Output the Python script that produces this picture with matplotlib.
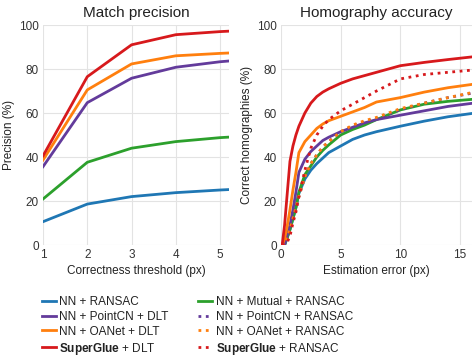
import numpy as np
import matplotlib.pyplot as plt

plt.rcParams['font.family'] = ['Liberation Sans', 'DejaVu Sans']
plt.rcParams['mathtext.fontset'] = 'custom'
plt.rcParams['mathtext.bf'] = 'Liberation Sans:bold'
plt.rcParams['mathtext.rm'] = 'Liberation Sans'

# colours
c_blue = '#1f77b4'
c_green = '#2ca02c'
c_purple = '#633b9b'
c_orange = '#ff7f0e'
c_red = '#d7191c'

# --- match precision (left)
thresholds = [1, 2, 3, 4, 5, 6]
prec_nn_ransac = [10.6, 18.6, 22.0, 23.8, 25.0, 26.0]
prec_nn_mutual = [20.9, 37.6, 44.0, 47.0, 48.8, 50.0]
prec_pointcn = [35.6, 64.7, 75.8, 80.8, 83.3, 85.0]
prec_oanet = [38.6, 70.5, 82.3, 86.0, 87.1, 88.0]
prec_superglue = [40.5, 76.5, 91.0, 95.6, 97.0, 98.0]

# --- homography accuracy (right)
err = [0.1, 0.3, 0.5, 0.75, 1, 1.25, 1.5, 2, 2.5, 3, 3.5, 4, 5, 6, 7, 8, 10, 12, 14, 16]
acc_nn_ransac = [0, 0, 3, 7, 12, 17, 23.5, 30, 34, 37, 39.5, 42, 45, 48, 50, 51.5, 54, 56.3, 58.3, 59.8]
acc_nn_mutual = [0, 0, 3, 7, 12, 17, 24, 32, 36, 40, 43, 45.5, 50, 52.5, 54.5, 57, 61.4, 64, 65.3, 66.2]
acc_pointcn_dlt = [0, 0, 4, 9, 16, 24, 33, 39, 42.5, 45, 47.5, 49, 51.5, 53.5, 55.5, 57, 59, 61, 63, 64.4]
acc_pointcn_ransac = [0, 0, 3, 7, 12, 17, 22, 31, 37, 41, 44.5, 47, 51.5, 54, 56, 57.5, 61.5, 64.5, 67, 69]
acc_oanet_dlt = [0, 3, 8, 16, 25, 33, 42, 47, 50, 53, 55, 56.5, 58.5, 60.5, 62.5, 65, 67, 69.5, 71.5, 73]
acc_oanet_ransac = [0, 0, 3, 7, 12, 17, 22, 31, 37, 41, 44.5, 47, 51.5, 54.5, 56.5, 58, 62, 64.5, 67, 69.3]
acc_superglue_dlt = [0, 9, 22, 38, 45, 50, 54, 60, 64.5, 67.5, 69.5, 71, 73.5, 75.5, 77, 78.5, 81.5, 83, 84.3, 85.5]
acc_superglue_ransac = [0, 0, 1, 4, 10, 15, 22, 34, 44, 50, 54, 57, 61, 64, 67, 70, 75.5, 77.5, 78.5, 79.5]

fig = plt.figure(figsize=(4.74, 3.57), dpi=100)
ax1 = fig.add_axes([43 / 474, 112 / 357, 186 / 474, 220 / 357])
ax2 = fig.add_axes([281 / 474, 112 / 357, 191 / 474, 220 / 357])

lw = 2.0
ax1.plot(thresholds, prec_nn_ransac, color=c_blue, lw=lw)
ax1.plot(thresholds, prec_nn_mutual, color=c_green, lw=lw)
ax1.plot(thresholds, prec_pointcn, color=c_purple, lw=lw)
ax1.plot(thresholds, prec_oanet, color=c_orange, lw=lw)
ax1.plot(thresholds, prec_superglue, color=c_red, lw=lw)

h = {}
h['blue'], = ax2.plot(err, acc_nn_ransac, color=c_blue, lw=lw)
h['green'], = ax2.plot(err, acc_nn_mutual, color=c_green, lw=lw)
h['purple'], = ax2.plot(err, acc_pointcn_dlt, color=c_purple, lw=lw)
h['purple_d'], = ax2.plot(err, acc_pointcn_ransac, color=c_purple, lw=lw, ls=':')
h['orange_d'], = ax2.plot(err, acc_oanet_ransac, color=c_orange, lw=lw, ls=':')
h['orange'], = ax2.plot(err, acc_oanet_dlt, color=c_orange, lw=lw)
h['red_d'], = ax2.plot(err, acc_superglue_ransac, color=c_red, lw=lw, ls=':')
h['red'], = ax2.plot(err, acc_superglue_dlt, color=c_red, lw=lw)

for ax in (ax1, ax2):
    for s in ax.spines.values():
        s.set_visible(False)
    ax.grid(True, color='#e3e3e3', lw=0.8)
    ax.set_axisbelow(True)
    ax.tick_params(length=0, labelsize=8.5, colors='#333333', pad=3)
    ax.set_ylim(0, 100)
    ax.set_yticks([0, 20, 40, 60, 80, 100])

ax1.set_xlim(1, 5.2)
ax1.set_xticks([1, 2, 3, 4, 5])
ax2.set_xlim(0, 16)
ax2.set_xticks([0, 5, 10, 15])

ax1.set_title('Match precision', fontsize=11, color='#222222', pad=6)
ax2.set_title('Homography accuracy', fontsize=11, color='#222222', pad=6)
ax1.set_xlabel('Correctness threshold (px)', fontsize=8.5, color='#222222', labelpad=3)
ax2.set_xlabel('Estimation error (px)', fontsize=8.5, color='#222222', labelpad=3)
ax1.set_ylabel('Precision (%)', fontsize=8.5, color='#222222', labelpad=3)
ax2.set_ylabel('Correct homographies (%)', fontsize=8.5, color='#222222', labelpad=3)

handles = [h['blue'], h['purple'], h['orange'], h['red'],
           h['green'], h['purple_d'], h['orange_d'], h['red_d']]
labels = ['NN + RANSAC', 'NN + PointCN + DLT', 'NN + OANet + DLT', r'$\bf{SuperGlue}$ + DLT',
          'NN + Mutual + RANSAC', 'NN + PointCN + RANSAC', 'NN + OANet + RANSAC', r'$\bf{SuperGlue}$ + RANSAC']
fig.legend(handles, labels, loc='upper left', bbox_to_anchor=(37 / 474, 1 - 291 / 357),
           ncol=2, frameon=False, fontsize=8.5, handlelength=1.2, handletextpad=0.3,
           columnspacing=2.5, labelspacing=0.25, borderaxespad=0, labelcolor='#222222')

fig.savefig('out.png', dpi=100)
